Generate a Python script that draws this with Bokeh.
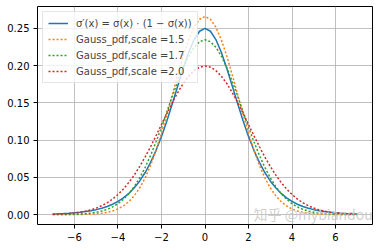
from bokeh.plotting import figure
from bokeh.models import FixedTicker, NumeralTickFormatter, CustomJSTickFormatter, Range1d, Label
from bokeh.embed import file_html
from bokeh.resources import INLINE

x = [-7.0, -6.75, -6.5, -6.25, -6.0, -5.75, -5.5, -5.25, -5.0, -4.75, -4.5, -4.25, -4.0, -3.75, -3.5,
     -3.25, -3.0, -2.75, -2.5, -2.25, -2.0, -1.75, -1.5, -1.25, -1.0, -0.75, -0.5, -0.25, 0.0,
     0.25, 0.5, 0.75, 1.0, 1.25, 1.5, 1.75, 2.0, 2.25, 2.5, 2.75, 3.0, 3.25, 3.5, 3.75, 4.0,
     4.25, 4.5, 4.75, 5.0, 5.25, 5.5, 5.75, 6.0, 6.25, 6.5, 6.75, 7.0]

sigmoid_deriv = [0.00091, 0.00117, 0.00150, 0.00192, 0.00247, 0.00316, 0.00405, 0.00519, 0.00665, 0.00850,
                 0.01087, 0.01387, 0.01766, 0.02245, 0.02845, 0.03593, 0.04518, 0.05648, 0.07010, 0.08626,
                 0.10499, 0.12613, 0.14915, 0.17311, 0.19661, 0.21789, 0.23500, 0.24614, 0.25000,
                 0.24614, 0.23500, 0.21789, 0.19661, 0.17311, 0.14915, 0.12613, 0.10499, 0.08626, 0.07010,
                 0.05648, 0.04518, 0.03593, 0.02845, 0.02245, 0.01766, 0.01387, 0.01087, 0.00850, 0.00665,
                 0.00519, 0.00405, 0.00316, 0.00247, 0.00192, 0.00150, 0.00117, 0.00091]

gauss_15 = [0.00000, 0.00001, 0.00002, 0.00005, 0.00009, 0.00017, 0.00032, 0.00058, 0.00103, 0.00177,
            0.00295, 0.00481, 0.00760, 0.01169, 0.01748, 0.02544, 0.03599, 0.04954, 0.06632, 0.08634,
            0.10934, 0.13467, 0.16131, 0.18794, 0.21297, 0.23471, 0.25159, 0.26229, 0.26596,
            0.26229, 0.25159, 0.23471, 0.21297, 0.18794, 0.16131, 0.13467, 0.10934, 0.08634, 0.06632,
            0.04954, 0.03599, 0.02544, 0.01748, 0.01169, 0.00760, 0.00481, 0.00295, 0.00177, 0.00103,
            0.00058, 0.00032, 0.00017, 0.00009, 0.00005, 0.00002, 0.00001, 0.00000]

gauss_17 = [0.00005, 0.00009, 0.00016, 0.00027, 0.00046, 0.00077, 0.00125, 0.00199, 0.00310, 0.00473,
            0.00706, 0.01031, 0.01473, 0.02060, 0.02819, 0.03774, 0.04946, 0.06343, 0.07959, 0.09774,
            0.11747, 0.13815, 0.15901, 0.17909, 0.19739, 0.21291, 0.22474, 0.23215, 0.23467,
            0.23215, 0.22474, 0.21291, 0.19739, 0.17909, 0.15901, 0.13815, 0.11747, 0.09774, 0.07959,
            0.06343, 0.04946, 0.03774, 0.02819, 0.02060, 0.01473, 0.01031, 0.00706, 0.00473, 0.00310,
            0.00199, 0.00125, 0.00077, 0.00046, 0.00027, 0.00016, 0.00009, 0.00005]

gauss_20 = [0.00044, 0.00067, 0.00101, 0.00151, 0.00222, 0.00320, 0.00455, 0.00636, 0.00876, 0.01188,
            0.01587, 0.02086, 0.02700, 0.03439, 0.04314, 0.05327, 0.06476, 0.07751, 0.09132, 0.10594,
            0.12099, 0.13603, 0.15057, 0.16408, 0.17603, 0.18593, 0.19333, 0.19792, 0.19947,
            0.19792, 0.19333, 0.18593, 0.17603, 0.16408, 0.15057, 0.13603, 0.12099, 0.10594, 0.09132,
            0.07751, 0.06476, 0.05327, 0.04314, 0.03439, 0.02700, 0.02086, 0.01587, 0.01188, 0.00876,
            0.00636, 0.00455, 0.00320, 0.00222, 0.00151, 0.00101, 0.00067, 0.00044]

labels = ["σ′(x) = σ(x) · (1 − σ(x))", "Gauss_pdf,scale =1.5", "Gauss_pdf,scale =1.7", "Gauss_pdf,scale =2.0"]
x_ticks = [-6, -4, -2, 0, 2, 4, 6]
y_ticks = [0.0, 0.05, 0.10, 0.15, 0.20, 0.25]
watermark = "知乎 @mybiandou"

FONT = "DejaVu Sans"
FS = "10px"

p = figure(width=378, height=248, output_backend="svg", toolbar_location=None,
           x_range=Range1d(-7.7, 7.7), y_range=Range1d(-0.0133, 0.2794),
           min_border_left=37, min_border_right=6, min_border_top=6, min_border_bottom=24)
p.background_fill_color = "white"
p.border_fill_color = "white"
p.outline_line_color = "black"
p.outline_line_width = 1

p.line(x, sigmoid_deriv, line_color="#1f77b4", line_width=1.5, legend_label=labels[0])
p.line(x, gauss_15, line_color="#ff7f0e", line_width=1.5, line_dash="2 2", legend_label=labels[1])
p.line(x, gauss_17, line_color="#2ca02c", line_width=1.5, line_dash="2 2", legend_label=labels[2])
p.line(x, gauss_20, line_color="#d62728", line_width=1.5, line_dash="2 2", legend_label=labels[3])

p.xaxis.ticker = FixedTicker(ticks=x_ticks)
p.yaxis.ticker = FixedTicker(ticks=y_ticks)
p.xaxis.formatter = CustomJSTickFormatter(code="return tick.toFixed(0).replace('-', '\u2212');")
p.yaxis.formatter = NumeralTickFormatter(format="0.00")
for ax in (p.xaxis, p.yaxis):
    ax.axis_line_color = None
    ax.major_tick_out = 4
    ax.major_tick_in = 0
    ax.minor_tick_line_color = None
    ax.major_tick_line_color = "black"
    ax.major_label_text_font = FONT
    ax.major_label_text_font_size = FS
    ax.major_label_text_color = "black"
    ax.major_label_standoff = 4

p.grid.grid_line_color = "#b0b0b0"
p.grid.grid_line_width = 0.8

lg = p.legend[0]
lg.location = "top_left"
lg.margin = 5
lg.padding = 5
lg.spacing = 4
lg.glyph_width = 20
lg.glyph_height = 12
lg.label_height = 12
lg.label_standoff = 8
lg.label_text_font = FONT
lg.label_text_font_size = FS
lg.border_line_color = "#cccccc"
lg.background_fill_alpha = 0.8

wm = Label(x=216, y=1, x_units="screen", y_units="screen", text=watermark,
           text_font="Noto Sans CJK SC", text_font_size="14px", text_color="#c8c8c8",
           text_alpha=0.85, text_baseline="bottom", text_align="left")
p.add_layout(wm)

open("out.html", "w").write(file_html(p, INLINE))
